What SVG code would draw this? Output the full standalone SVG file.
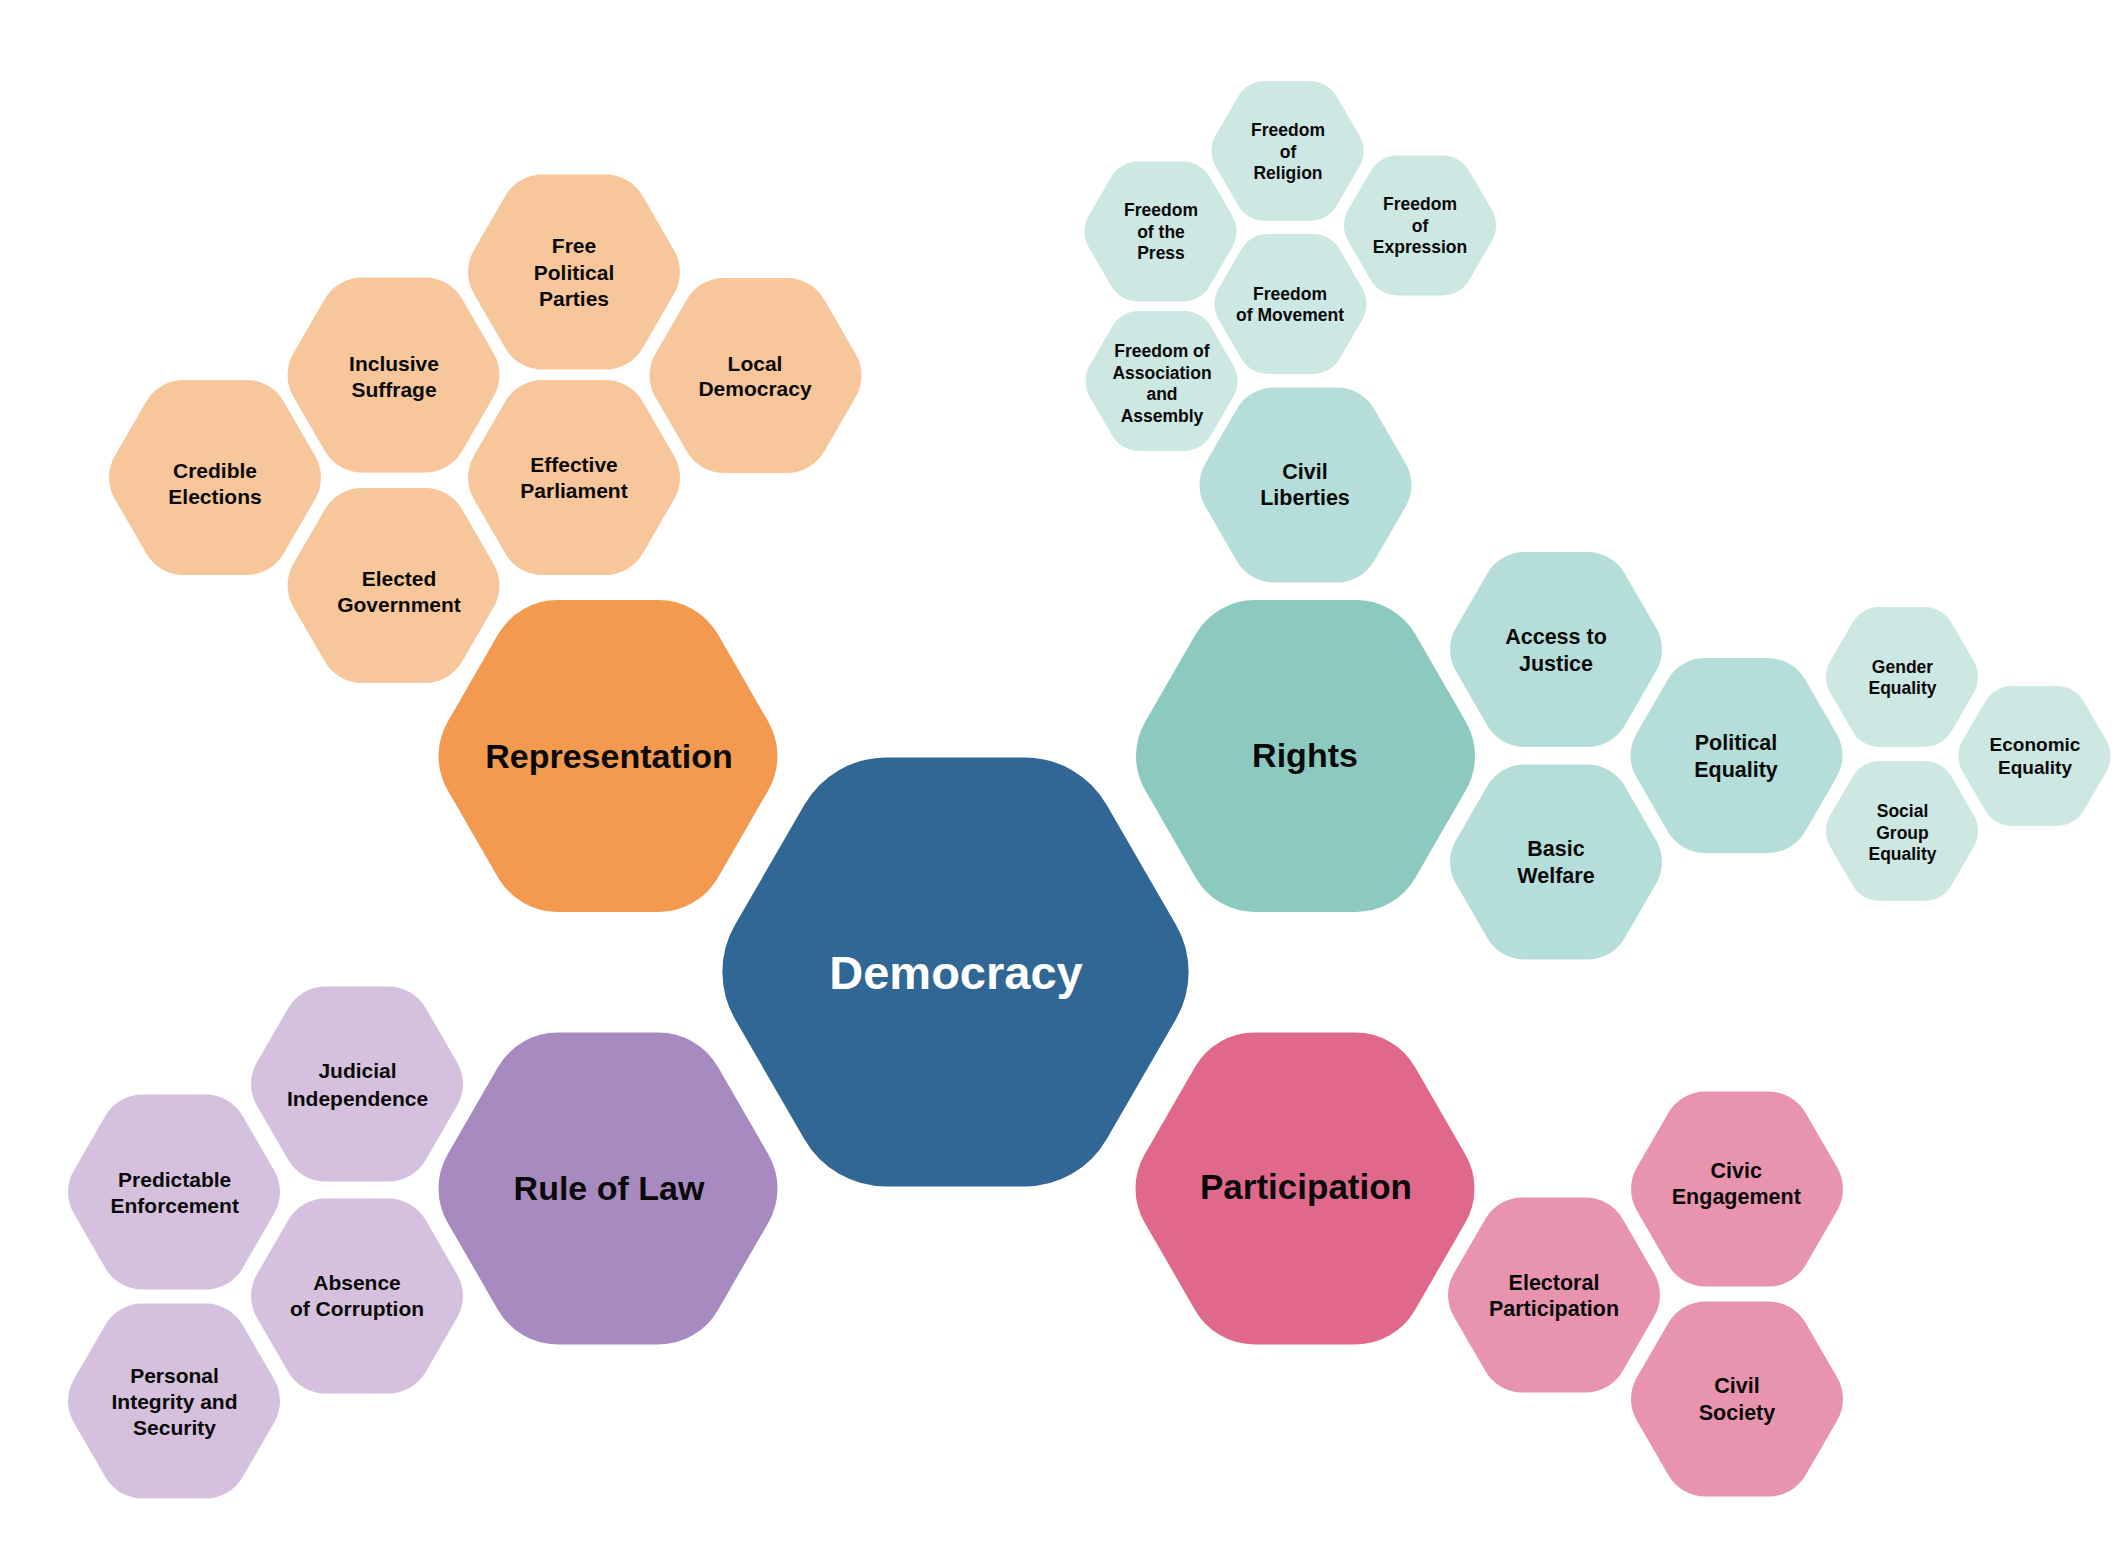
<svg xmlns="http://www.w3.org/2000/svg" width="2126" height="1545" viewBox="0 0 2126 1545">
<style>
text{font-family:"Liberation Sans",Arial,sans-serif;font-weight:bold;text-anchor:middle;fill:#0a0a0a}
.t21{font-size:21px}.t215{font-size:21.5px}.t17{font-size:17.5px}.t19{font-size:19px}
.main{font-size:34px}.main35{font-size:35px}
.demo{font-size:47px;fill:#ffffff}
.c-demo{fill:#316795}
.c-rep{fill:#F39A50}.c-rep2{fill:#F8C69B}
.c-rig{fill:#8CCAC1}.c-rig2{fill:#B5DEDA}.c-rig3{fill:#CDE7E3}
.c-law{fill:#A78AC0}.c-law2{fill:#D5C1DE}
.c-par{fill:#E0698B}.c-par2{fill:#E994AE}
</style>
<defs>
<path id="hx" d="M0.89,-0.19053 A0.381,0.381 0 0 1 0.89,0.19053 L0.61,0.6755 A0.381,0.381 0 0 1 0.28,0.86603 L-0.28,0.86603 A0.381,0.381 0 0 1 -0.61,0.6755 L-0.89,0.19053 A0.381,0.381 0 0 1 -0.89,-0.19053 L-0.61,-0.6755 A0.381,0.381 0 0 1 -0.28,-0.86603 L0.28,-0.86603 A0.381,0.381 0 0 1 0.61,-0.6755 Z"/>
</defs>
<rect width="2126" height="1545" fill="#ffffff"/>

<g id="democracy">
<use href="#hx" class="c-demo" transform="translate(955.5,972) scale(247.7)"/>
<text class="demo" x="956" y="989">Democracy</text>
</g>

<g id="representation">
<use href="#hx" class="c-rep" transform="translate(608,756) scale(180.1)"/>
<text class="main" x="609" y="768">Representation</text>
</g>
<g id="rights">
<use href="#hx" class="c-rig" transform="translate(1305.5,756) scale(180.1)"/>
<text class="main" x="1305" y="767">Rights</text>
</g>
<g id="rule-of-law">
<use href="#hx" class="c-law" transform="translate(608,1188.5) scale(180.1)"/>
<text class="main" x="609" y="1200">Rule of Law</text>
</g>
<g id="participation">
<use href="#hx" class="c-par" transform="translate(1305,1188.5) scale(180.1)"/>
<text class="main35" x="1306" y="1199">Participation</text>
</g>

<!-- Representation sub-nodes -->
<g id="free-political-parties">
<use href="#hx" class="c-rep2" transform="translate(574,272) scale(112.6)"/>
<text class="t21" x="574" y="252.5">Free</text>
<text class="t21" x="574" y="279.5">Political</text>
<text class="t21" x="574" y="306">Parties</text>
</g>
<g id="inclusive-suffrage">
<use href="#hx" class="c-rep2" transform="translate(393.5,375) scale(112.6)"/>
<text class="t21" x="394" y="370.5">Inclusive</text>
<text class="t21" x="394" y="396.5">Suffrage</text>
</g>
<g id="local-democracy">
<use href="#hx" class="c-rep2" transform="translate(755.5,375.5) scale(112.6)"/>
<text class="t21" x="755" y="370.5">Local</text>
<text class="t21" x="755" y="396">Democracy</text>
</g>
<g id="credible-elections">
<use href="#hx" class="c-rep2" transform="translate(215,477.5) scale(112.6)"/>
<text class="t21" x="215" y="478">Credible</text>
<text class="t21" x="215" y="504">Elections</text>
</g>
<g id="effective-parliament">
<use href="#hx" class="c-rep2" transform="translate(574,477.5) scale(112.6)"/>
<text class="t21" x="574" y="472">Effective</text>
<text class="t21" x="574" y="498">Parliament</text>
</g>
<g id="elected-government">
<use href="#hx" class="c-rep2" transform="translate(393.5,585.5) scale(112.6)"/>
<text class="t21" x="399" y="585.5">Elected</text>
<text class="t21" x="399" y="611.5">Government</text>
</g>

<!-- Rights sub-nodes -->
<g id="civil-liberties">
<use href="#hx" class="c-rig2" transform="translate(1305.5,485) scale(112.6)"/>
<text class="t215" x="1305" y="479">Civil</text>
<text class="t215" x="1305" y="505">Liberties</text>
</g>
<g id="access-to-justice">
<use href="#hx" class="c-rig2" transform="translate(1556,649.5) scale(112.6)"/>
<text class="t215" x="1556" y="643.5">Access to</text>
<text class="t215" x="1556" y="670.5">Justice</text>
</g>
<g id="basic-welfare">
<use href="#hx" class="c-rig2" transform="translate(1556,862) scale(112.6)"/>
<text class="t215" x="1556" y="855.5">Basic</text>
<text class="t215" x="1556" y="882.5">Welfare</text>
</g>
<g id="political-equality">
<use href="#hx" class="c-rig2" transform="translate(1736.5,755.5) scale(112.6)"/>
<text class="t215" x="1736" y="749.5">Political</text>
<text class="t215" x="1736" y="777">Equality</text>
</g>
<g id="freedom-of-religion">
<use href="#hx" class="c-rig3" transform="translate(1287.5,151) scale(80.8)"/>
<text class="t17" x="1288" y="136.3">Freedom</text>
<text class="t17" x="1288" y="158.3">of</text>
<text class="t17" x="1288" y="179.3">Religion</text>
</g>
<g id="freedom-of-the-press">
<use href="#hx" class="c-rig3" transform="translate(1160.5,231.5) scale(80.8)"/>
<text class="t17" x="1161" y="216">Freedom</text>
<text class="t17" x="1161" y="237.8">of the</text>
<text class="t17" x="1161" y="259">Press</text>
</g>
<g id="freedom-of-expression">
<use href="#hx" class="c-rig3" transform="translate(1420,225.5) scale(80.8)"/>
<text class="t17" x="1420" y="210.3">Freedom</text>
<text class="t17" x="1420" y="232">of</text>
<text class="t17" x="1420" y="253">Expression</text>
</g>
<g id="freedom-of-movement">
<use href="#hx" class="c-rig3" transform="translate(1290.5,304) scale(80.8)"/>
<text class="t17" x="1290" y="300.3">Freedom</text>
<text class="t17" x="1290" y="321">of Movement</text>
</g>
<g id="freedom-of-association">
<use href="#hx" class="c-rig3" transform="translate(1161.5,381) scale(80.8)"/>
<text class="t17" x="1162" y="357.3">Freedom of</text>
<text class="t17" x="1162" y="378.7">Association</text>
<text class="t17" x="1162" y="400.3">and</text>
<text class="t17" x="1162" y="422.3">Assembly</text>
</g>
<g id="gender-equality">
<use href="#hx" class="c-rig3" transform="translate(1902,677) scale(80.8)"/>
<text class="t17" x="1902.5" y="673.3">Gender</text>
<text class="t17" x="1902.5" y="694.3">Equality</text>
</g>
<g id="social-group-equality">
<use href="#hx" class="c-rig3" transform="translate(1902,831) scale(80.8)"/>
<text class="t17" x="1902.5" y="817.3">Social</text>
<text class="t17" x="1902.5" y="838.6">Group</text>
<text class="t17" x="1902.5" y="860.3">Equality</text>
</g>
<g id="economic-equality">
<use href="#hx" class="c-rig3" transform="translate(2034.5,756) scale(80.8)"/>
<text class="t19" x="2035" y="750.8">Economic</text>
<text class="t19" x="2035" y="773.5">Equality</text>
</g>

<!-- Rule of Law sub-nodes -->
<g id="judicial-independence">
<use href="#hx" class="c-law2" transform="translate(357,1084) scale(112.6)"/>
<text class="t21" x="357.5" y="1078.2">Judicial</text>
<text class="t21" x="357.5" y="1105.5">Independence</text>
</g>
<g id="predictable-enforcement">
<use href="#hx" class="c-law2" transform="translate(174,1192) scale(112.6)"/>
<text class="t21" x="174.7" y="1187.2">Predictable</text>
<text class="t21" x="174.7" y="1213.2">Enforcement</text>
</g>
<g id="absence-of-corruption">
<use href="#hx" class="c-law2" transform="translate(357,1296) scale(112.6)"/>
<text class="t21" x="357" y="1289.5">Absence</text>
<text class="t21" x="357" y="1316">of Corruption</text>
</g>
<g id="personal-integrity">
<use href="#hx" class="c-law2" transform="translate(174,1401) scale(112.6)"/>
<text class="t21" x="174.5" y="1383.3">Personal</text>
<text class="t21" x="174.5" y="1409">Integrity and</text>
<text class="t21" x="174.5" y="1435.2">Security</text>
</g>

<!-- Participation sub-nodes -->
<g id="civic-engagement">
<use href="#hx" class="c-par2" transform="translate(1737,1189) scale(112.6)"/>
<text class="t215" x="1736.3" y="1178.4">Civic</text>
<text class="t215" x="1736.3" y="1204.4">Engagement</text>
</g>
<g id="electoral-participation">
<use href="#hx" class="c-par2" transform="translate(1554,1295) scale(112.6)"/>
<text class="t215" x="1554" y="1290.4">Electoral</text>
<text class="t215" x="1554" y="1316">Participation</text>
</g>
<g id="civil-society">
<use href="#hx" class="c-par2" transform="translate(1737,1399) scale(112.6)"/>
<text class="t215" x="1737" y="1393.4">Civil</text>
<text class="t215" x="1737" y="1420.4">Society</text>
</g>
</svg>
